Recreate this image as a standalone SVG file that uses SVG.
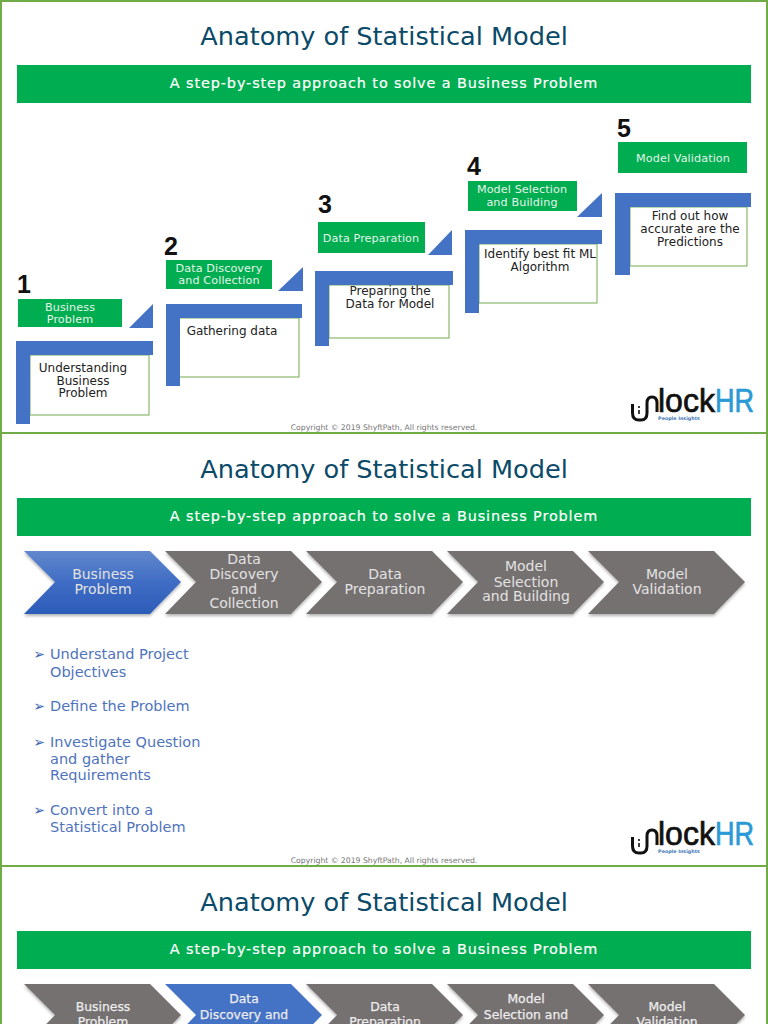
<svg xmlns="http://www.w3.org/2000/svg" width="768" height="1024" viewBox="0 0 768 1024">
<defs>
<linearGradient id="blueGrad" x1="0" y1="0" x2="0" y2="1"><stop offset="0" stop-color="#6288cd"/><stop offset="0.5" stop-color="#3f6cc4"/><stop offset="1" stop-color="#2b5cb8"/></linearGradient>
<filter id="sh" x="-5%" y="-5%" width="110%" height="115%"><feDropShadow dx="0" dy="2" stdDeviation="1.5" flood-color="#000" flood-opacity="0.3"/></filter>
<g id="logoMark"><path d="M632.5 404V413Q632.5 420 639 420H641Q647 420 647 413V403Q647 397 652 397Q657 397 657 403V412" fill="none" stroke="#111" stroke-width="3"/><path d="M639 406V408M639 410V414" stroke="#111" stroke-width="1.6"/></g>
</defs>
<style>
text{font-family:"DejaVu Sans","Liberation Sans",sans-serif;text-anchor:middle}
.title{font-size:25.6px;fill:#0b4a68}
.banner{fill:#00ad50}
.bt{font-size:14.4px;letter-spacing:.9px;fill:#fff;stroke:#fff;stroke-width:.2px}
.gt{font-size:11.2px;letter-spacing:.1px;fill:#e4f4ea}
.num{font-family:"Liberation Sans",sans-serif;font-size:25px;font-weight:bold;fill:#111}
.blue{fill:#4472c4}
.box{fill:#fff;stroke:#74a94f;stroke-width:1}
.bx{font-size:12px;fill:#222}
.sep{fill:none;stroke:#70ad47;stroke-width:2}
.copy{font-size:7.7px;fill:#777}
.ch{fill:#767171;filter:url(#sh)}
.cht{font-size:14px;fill:#e2e2e2}
.cs{font-size:12.4px;fill:#ececec;stroke:#ececec;stroke-width:.25px}
.li{font-size:14.5px;fill:#4f74bd;text-anchor:start}
.arr{font-size:14px;fill:#3f66b0}
.lg1{font-family:"Liberation Sans",sans-serif;font-size:33px;fill:#111;stroke:#111;stroke-width:.7px;text-anchor:start}
.lg2{font-family:"Liberation Sans",sans-serif;font-size:33px;fill:#2a9ad6;stroke:#2a9ad6;stroke-width:.7px;text-anchor:start}
.lg3{font-size:4.8px;fill:#3f78b8;font-weight:bold}
</style>
<rect width="768" height="1024" fill="#fff"/>
<path class="sep" d="M1 0V1024M767 0V1024M0 433H768M0 866H768M0 1H768"/>

<g id="slide1">
<text class="title" x="384" y="45">Anatomy of Statistical Model</text>
<rect class="banner" x="17" y="65" width="734" height="38"/>
<text class="bt" x="384" y="88">A step-by-step approach to solve a Business Problem</text>
</g>
<g id="step1">
<text class="num" x="24" y="293">1</text>
<rect class="banner" x="18" y="299" width="104" height="28"/>
<text class="gt" x="70" y="311">Business</text><text class="gt" x="70" y="323">Problem</text>
<path class="blue" d="M129 328L153 304V328Z"/>
<rect class="box" x="30" y="355" width="119" height="60"/>
<path class="blue" d="M16 341H153V355H30V424H16Z"/>
<text class="bx" x="83" y="372">Understanding</text><text class="bx" x="83" y="385">Business</text><text class="bx" x="83" y="397">Problem</text>
</g>
<g id="step2">
<text class="num" x="171" y="255">2</text>
<rect class="banner" x="166" y="260" width="106" height="29"/>
<text class="gt" x="219" y="272">Data Discovery</text><text class="gt" x="219" y="284">and Collection</text>
<path class="blue" d="M278 291L303 267V291Z"/>
<rect class="box" x="179" y="318" width="120" height="59"/>
<path class="blue" d="M166 304H302V318H180V386H166Z"/>
<text class="bx" x="232" y="335">Gathering data</text>
</g>
<g id="step3">
<text class="num" x="325" y="213">3</text>
<rect class="banner" x="318" y="222" width="107" height="31"/>
<text class="gt" x="371" y="242">Data Preparation</text>
<path class="blue" d="M428 255L452 230V255Z"/>
<rect class="box" x="329" y="285" width="120" height="53"/>
<path class="blue" d="M315 271H453V285H329V346H315Z"/>
<text class="bx" x="390" y="295">Preparing the</text><text class="bx" x="390" y="308">Data for Model</text>
</g>
<g id="step4">
<text class="num" x="474" y="175">4</text>
<rect class="banner" x="468" y="181" width="109" height="30"/>
<text class="gt" x="522" y="193">Model Selection</text><text class="gt" x="522" y="206">and Building</text>
<path class="blue" d="M577 217L602 193V217Z"/>
<rect class="box" x="479" y="244" width="118" height="59"/>
<path class="blue" d="M465 230H602V244H479V313H465Z"/>
<text class="bx" x="540" y="258">Identify best fit ML</text><text class="bx" x="540" y="271">Algorithm</text>
</g>
<g id="step5">
<text class="num" x="624" y="137">5</text>
<rect class="banner" x="618" y="142" width="129" height="31"/>
<text class="gt" x="683" y="162">Model Validation</text>
<rect class="box" x="630" y="207" width="117" height="59"/>
<path class="blue" d="M615 193H751V207H630V275H615Z"/>
<text class="bx" x="690" y="220">Find out how</text><text class="bx" x="690" y="233">accurate are the</text><text class="bx" x="690" y="246">Predictions</text>
</g>
<g id="logo1">
<use href="#logoMark"/>
<text class="lg1" x="658" y="412" textLength="57" lengthAdjust="spacingAndGlyphs">lock</text><text class="lg2" x="715" y="412" textLength="39" lengthAdjust="spacingAndGlyphs">HR</text>
<text class="lg3" x="679" y="420">People Insights</text>
</g>
<text class="copy" x="384" y="430">Copyright © 2019 ShyftPath, All rights reserved.</text>

<g id="slide2">
<text class="title" x="384" y="478">Anatomy of Statistical Model</text>
<rect class="banner" x="17" y="498" width="734" height="38"/>
<text class="bt" x="384" y="521">A step-by-step approach to solve a Business Problem</text>
</g>
<g id="chev1"><path d="M24 551H150L181 582L150 614H24L55 582Z" fill="url(#blueGrad)" filter="url(#sh)"/><text class="cht" x="103" y="579">Business</text><text class="cht" x="103" y="594">Problem</text></g>
<g id="chev2"><path d="M165 551H291L322 582L291 614H165L196 582Z" class="ch"/><text class="cht" x="244" y="564">Data</text><text class="cht" x="244" y="579">Discovery</text><text class="cht" x="244" y="594">and</text><text class="cht" x="244" y="608">Collection</text></g>
<g id="chev3"><path d="M306 551H432L463 582L432 614H306L337 582Z" class="ch"/><text class="cht" x="385" y="579">Data</text><text class="cht" x="385" y="594">Preparation</text></g>
<g id="chev4"><path d="M447 551H573L604 582L573 614H447L478 582Z" class="ch"/><text class="cht" x="526" y="571">Model</text><text class="cht" x="526" y="587">Selection</text><text class="cht" x="526" y="601">and Building</text></g>
<g id="chev5"><path d="M588 551H714L745 582L714 614H588L619 582Z" class="ch"/><text class="cht" x="667" y="579">Model</text><text class="cht" x="667" y="594">Validation</text></g>
<g id="list">
<text class="arr" x="39" y="659">➢</text><text class="li" x="50" y="659">Understand Project</text><text class="li" x="50" y="677">Objectives</text>
<text class="arr" x="39" y="711">➢</text><text class="li" x="50" y="711">Define the Problem</text>
<text class="arr" x="39" y="747">➢</text><text class="li" x="50" y="747">Investigate Question</text><text class="li" x="50" y="764">and gather</text><text class="li" x="50" y="780">Requirements</text>
<text class="arr" x="39" y="815">➢</text><text class="li" x="50" y="815">Convert into a</text><text class="li" x="50" y="832">Statistical Problem</text>
</g>
<g id="logo2">
<use href="#logoMark" y="433"/>
<text class="lg1" x="658" y="845" textLength="57" lengthAdjust="spacingAndGlyphs">lock</text><text class="lg2" x="715" y="845" textLength="39" lengthAdjust="spacingAndGlyphs">HR</text>
<text class="lg3" x="679" y="853">People Insights</text>
</g>
<text class="copy" x="384" y="863">Copyright © 2019 ShyftPath, All rights reserved.</text>

<g id="slide3">
<text class="title" x="384" y="911">Anatomy of Statistical Model</text>
<rect class="banner" x="17" y="931" width="734" height="38"/>
<text class="bt" x="384" y="954">A step-by-step approach to solve a Business Problem</text>
</g>
<g id="chev6"><path d="M24 984H150L181 1015L150 1047H24L55 1015Z" class="ch"/><text class="cs" x="103" y="1011">Business</text><text class="cs" x="103" y="1026">Problem</text></g>
<g id="chev7"><path d="M165 984H291L322 1015L291 1047H165L196 1015Z" class="blue"/><text class="cs" x="244" y="1003">Data</text><text class="cs" x="244" y="1019">Discovery and</text></g>
<g id="chev8"><path d="M306 984H432L463 1015L432 1047H306L337 1015Z" class="ch"/><text class="cs" x="385" y="1011">Data</text><text class="cs" x="385" y="1026">Preparation</text></g>
<g id="chev9"><path d="M447 984H573L604 1015L573 1047H447L478 1015Z" class="ch"/><text class="cs" x="526" y="1003">Model</text><text class="cs" x="526" y="1019">Selection and</text></g>
<g id="chev10"><path d="M588 984H714L745 1015L714 1047H588L619 1015Z" class="ch"/><text class="cs" x="667" y="1011">Model</text><text class="cs" x="667" y="1026">Validation</text></g>
</svg>
